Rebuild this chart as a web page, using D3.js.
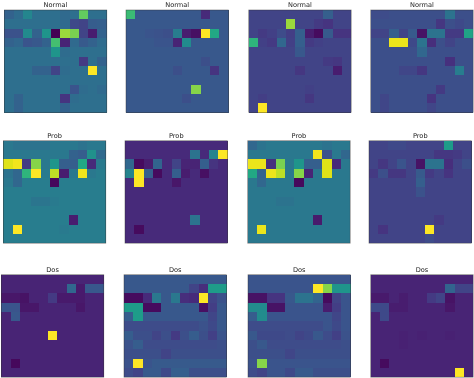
<!DOCTYPE html>
<html><head><meta charset="utf-8">
<script src="https://cdn.jsdelivr.net/npm/d3@7"></script>
<style>html,body{margin:0;padding:0;background:#fff;overflow:hidden}svg{display:block;filter:blur(0.35px)}</style>
</head><body><div id="chart"></div>
<script>
const rowIndex=[0,1,2,3,4,5,6,7,8,9,10];
const colIndex=[0,1,2,3,4,5,6,7,8,9,10];
const titles=["Normal","Normal","Normal","Normal","Prob","Prob","Prob","Prob","Dos","Dos","Dos","Dos"];
const normal1=[
[31,35,46,36,36,36,34,36,76,36,36],
[36,36,36,36,36,36,34,22,20,29,30],
[25,25,48,31,52,0,85,80,20,8,31],
[31,33,26,27,31,70,10,34,28,31,35],
[36,36,36,36,36,52,35,36,36,36,36],
[36,36,36,36,36,36,36,36,17,36,31],
[36,36,36,31,31,20,35,36,36,100,36],
[36,36,36,36,36,36,36,36,36,36,36],
[36,36,36,36,36,36,36,26,35,36,34],
[36,31,36,36,36,36,15,35,36,36,36],
[36,31,36,36,36,36,31,36,36,36,36]];
const normal2=[
[68,27,27,27,27,27,27,27,12,27,27],
[27,27,27,27,27,27,27,27,27,27,27],
[27,27,26,25,24,42,8,4,100,60,27],
[27,27,27,26,26,10,48,27,27,27,27],
[27,27,27,27,27,27,27,27,27,27,27],
[27,27,27,27,27,27,27,27,24,27,27],
[27,27,27,27,27,24,27,27,27,15,27],
[27,27,27,27,27,27,27,27,27,27,27],
[27,27,27,27,27,27,27,82,27,27,27],
[27,27,27,27,27,27,24,27,27,27,27],
[27,27,27,27,27,27,27,27,27,27,27]];
const normal3=[
[20,20,20,20,20,20,20,20,30,20,20],
[20,20,20,20,85,20,20,17,15,20,20],
[20,17,19,23,18,30,8,3,28,15,15],
[65,19,17,33,19,30,17,19,20,20,20],
[20,20,20,20,20,27,20,20,20,20,20],
[20,20,20,20,20,20,20,20,17,16,20],
[20,20,20,20,20,16,20,20,20,8,20],
[20,20,20,20,20,20,20,20,20,20,20],
[20,20,20,20,20,20,19,20,20,20,20],
[20,18,20,20,20,20,16,20,20,20,20],
[20,100,20,20,20,20,20,20,20,20,20]];
const normal4=[
[23,23,24,24,24,24,24,24,38,24,24],
[24,24,24,24,24,24,24,16,24,22,24],
[20,20,30,20,28,5,38,38,17,17,58],
[24,24,97,97,22,38,13,24,20,24,24],
[24,24,24,24,24,33,24,24,24,24,24],
[24,24,24,24,24,24,24,24,14,24,24],
[24,24,24,21,21,16,24,24,24,42,24],
[24,24,24,24,24,24,24,24,24,24,24],
[24,24,24,24,24,24,24,17,24,24,24],
[24,21,24,24,24,24,15,24,24,24,24],
[24,21,24,24,24,24,21,24,24,24,24]];
const prob1=[
[40,38,38,38,38,40,40,40,38,40,40],
[40,40,40,40,40,40,40,31,29,50,34],
[95,98,17,82,40,52,30,30,60,12,41],
[38,33,65,100,41,90,8,40,98,40,42],
[40,33,42,42,42,2,42,42,42,42,42],
[42,42,42,42,42,42,42,42,42,42,42],
[42,42,42,39,39,41,42,42,42,42,42],
[42,42,42,42,42,42,42,42,42,42,42],
[42,42,42,42,42,42,42,8,42,42,42],
[42,100,42,42,42,42,41,42,42,42,42],
[42,42,42,42,42,42,42,42,42,42,42]];
const prob2=[
[12,12,12,12,12,12,12,12,12,12,12],
[12,12,12,12,12,12,12,38,12,45,100],
[33,3,8,32,12,20,10,10,30,15,12],
[45,100,30,3,12,30,8,12,4,12,12],
[12,100,12,12,12,6,12,12,12,12,12],
[12,12,12,12,12,12,12,12,12,12,12],
[12,12,12,12,12,12,12,12,12,12,12],
[12,12,12,12,12,12,12,12,12,12,12],
[12,12,12,12,12,12,12,38,12,12,12],
[12,3,12,12,12,12,12,12,12,12,12],
[12,12,12,12,12,12,12,12,12,12,12]];
const prob3=[
[33,38,40,40,40,40,40,40,38,40,40],
[40,40,40,40,40,40,40,98,25,40,33],
[97,97,14,80,40,52,30,30,95,12,40],
[60,32,97,90,40,82,10,40,95,40,40],
[40,33,40,40,40,2,40,40,40,40,40],
[40,40,40,40,40,40,40,40,40,40,40],
[40,40,40,38,38,40,40,40,40,40,40],
[40,40,40,40,40,40,40,40,40,40,40],
[40,40,40,40,40,40,40,7,40,40,40],
[40,97,40,40,40,40,40,40,40,40,40],
[40,40,40,40,40,40,40,40,40,40,40]];
const prob4=[
[20,20,22,22,20,20,20,20,55,20,20],
[20,20,20,20,20,20,20,16,16,17,20],
[20,16,20,26,20,5,38,38,13,20,24],
[17,24,16,16,20,28,17,20,15,20,20],
[20,20,20,20,20,30,20,20,20,20,20],
[20,20,20,20,20,25,20,20,20,20,20],
[20,20,20,20,20,20,20,20,20,20,20],
[20,20,20,20,20,20,20,20,20,20,20],
[20,20,20,20,20,20,20,17,20,20,20],
[20,15,20,20,20,20,100,20,20,20,20],
[20,20,20,20,20,20,23,20,20,20,20]];
const dos1=[
[10,10,10,10,10,10,10,10,10,10,10],
[10,10,10,10,10,10,10,33,7,27,27],
[6,6,5,10,10,17,7,7,7,10,10],
[26,26,6,6,10,10,10,10,6,10,10],
[10,27,10,10,10,10,10,10,10,10,10],
[10,10,10,10,10,10,10,10,10,10,10],
[10,10,10,10,10,100,10,10,10,10,10],
[10,10,10,10,10,10,10,10,10,10,10],
[10,10,10,10,10,10,10,10,10,10,10],
[10,2,10,10,10,10,10,10,10,10,10],
[10,10,10,10,10,10,10,10,10,10,10]];
const dos2=[
[27,27,27,27,27,27,27,27,27,27,27],
[27,27,27,27,27,27,27,20,13,55,55],
[3,3,12,40,27,40,13,12,100,20,25],
[55,55,3,3,27,27,27,27,4,18,27],
[29,55,27,27,27,27,27,27,27,21,27],
[23,23,23,23,23,23,23,23,25,22,27],
[29,24,24,20,24,17,24,29,24,19,26],
[25,29,23,23,23,23,23,23,23,23,24],
[24,24,24,24,20,24,24,24,24,24,24],
[25,100,26,28,28,28,28,28,28,28,28],
[23,20,28,28,22,30,30,24,24,24,24]];
const dos3=[
[26,26,26,26,26,26,26,26,26,26,26],
[26,26,26,26,26,26,26,100,82,52,52],
[5,5,15,15,27,38,38,32,3,20,26],
[48,48,5,5,26,26,26,26,8,18,26],
[29,48,26,26,26,26,26,26,26,21,26],
[23,23,23,23,23,23,23,23,26,22,26],
[27,22,22,22,23,20,22,27,23,19,25],
[24,27,23,23,23,23,23,23,23,23,24],
[24,24,24,24,21,24,24,24,24,24,24],
[25,82,26,26,26,26,26,26,26,26,26],
[23,20,26,26,22,28,28,24,24,24,24]];
const dos4=[
[10,10,10,10,10,10,10,10,10,10,10],
[10,10,10,10,10,10,10,10,32,20,20],
[7,7,10,8,10,10,17,20,5,10,10],
[22,22,8,8,10,10,10,10,6,10,10],
[10,22,10,10,10,10,10,10,10,10,10],
[10,10,10,10,10,10,10,10,10,10,10],
[10,10,10,9,10,9,10,10,9,10,10],
[10,10,10,9,10,10,10,10,10,10,10],
[10,10,10,10,10,10,10,10,10,10,10],
[10,3,10,10,10,10,10,10,10,10,10],
[10,10,10,10,10,10,10,10,10,100,10]];
const matrices=[normal1,normal2,normal3,normal4,prob1,prob2,prob3,prob4,dos1,dos2,dos3,dos4];

const W=474,H=378,size=102.5;
const panelLeft=[4.3,126,248.7,370.7,3.3,125,247.7,369,1.3,124,248,370.7];
const panelTop=[10,10,10,10,140.7,140.7,140.7,140.7,274.7,274.7,274.7,274.7];
const x=d3.scaleBand().domain(colIndex).range([0,size]);
const y=d3.scaleBand().domain(rowIndex).range([0,size]);
const color=d3.scaleSequential(d3.interpolateViridis).domain([0,100]);
const svg=d3.select("#chart").append("svg").attr("width",W).attr("height",H);
const panels=svg.selectAll("g.panel").data(matrices).join("g").attr("class","panel")
 .attr("transform",(d,i)=>`translate(${panelLeft[i]},${panelTop[i]})`);
panels.selectAll("g.row").data(d=>d).join("g").attr("class","row")
 .attr("transform",(d,r)=>`translate(0,${y(r)})`)
 .selectAll("rect").data(d=>d).join("rect")
 .attr("x",(d,c)=>x(c)).attr("y",0)
 .attr("width",x.bandwidth()).attr("height",y.bandwidth())
 .attr("shape-rendering","crispEdges")
 .attr("fill",d=>color(d));
panels.append("rect").attr("width",size).attr("height",size)
 .attr("fill","none").attr("stroke","#333").attr("stroke-opacity",0.7).attr("stroke-width",0.6);
panels.append("text").attr("x",size/2).attr("y",-3.2).attr("text-anchor","middle")
 .attr("font-family","DejaVu Sans").attr("font-size",6.6).attr("fill","#222")
 .text((d,i)=>titles[i]);
</script></body></html>
